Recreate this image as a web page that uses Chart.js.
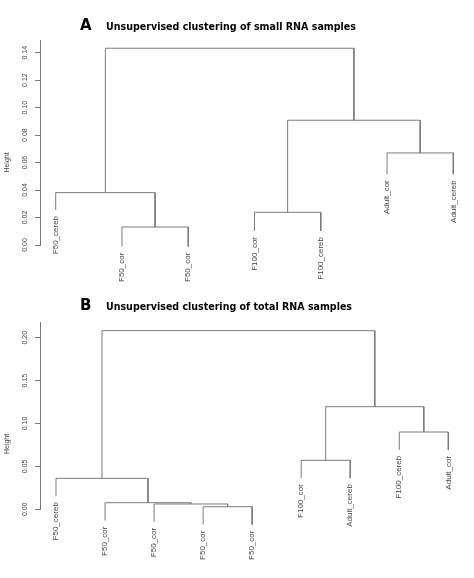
<!DOCTYPE html>
<html>
<head>
<meta charset="utf-8">
<script src="https://cdn.jsdelivr.net/npm/chart.js@4.4.1/dist/chart.umd.min.js"></script>
<style>
html, body { margin: 0; padding: 0; background: #fff; }
#wrap { position: relative; width: 474px; height: 578px; }
canvas { position: absolute; left: 0; }
</style>
</head>
<body>
<div id="wrap">
<canvas id="chartA" width="474" height="290" style="top:0px"></canvas>
<canvas id="chartB" width="474" height="288" style="top:290px"></canvas>
</div>
<script>
// ---------- panel A : small RNA ----------
const leavesA = ["F50_cereb", "F50_cor", "F50_cor", "F100_cor", "F100_cereb", "Adult_cor", "Adult_cereb"];
const leafEndA = [0.0255, -0.0012, -0.0012, 0.0102, 0.0102, 0.0515, 0.0515];
// R style merge table: negative = leaf, positive = earlier merge
const mergeA = [[-2, -3], [-4, -5], [-6, -7], [-1, 1], [2, 3], [4, 5]];
const heightA = [0.0131, 0.0238, 0.0670, 0.0381, 0.0908, 0.1432];
const ticksA = [0, 0.02, 0.04, 0.06, 0.08, 0.10, 0.12, 0.14];

// ---------- panel B : total RNA ----------
const leavesB = ["F50_cereb", "F50_cor", "F50_cor", "F50_cor", "F50_cor", "F100_cor", "Adult_cereb", "F100_cereb", "Adult_cor"];
const leafEndB = [0.0153, -0.0131, -0.0146, -0.0178, -0.0178, 0.0363, 0.0363, 0.0693, 0.0693];
const mergeB = [[-4, -5], [-3, 1], [-2, 2], [-1, 3], [-6, -7], [-8, -9], [5, 6], [4, 7]];
const heightB = [0.0030, 0.0062, 0.0077, 0.0361, 0.0571, 0.0901, 0.1196, 0.2082];
const ticksB = [0, 0.05, 0.10, 0.15, 0.20];

const LINE = "#7a7a7a";
const TEXT = "#444";

// turn the merge table into one polyline per link
function buildLinks(merge, height, leafEnd) {
    const nodeX = [], nodeY = [];
    function pos(ref) {
        if (ref < 0) return { x: -ref, y: leafEnd[-ref - 1] };
        return { x: nodeX[ref - 1], y: nodeY[ref - 1] };
    }
    return merge.map((m, k) => {
        const a = pos(m[0]), b = pos(m[1]);
        nodeX[k] = (a.x + b.x) / 2;
        nodeY[k] = height[k];
        return {
            data: [
                { x: a.x, y: a.y },
                { x: a.x, y: height[k] },
                { x: b.x, y: height[k] },
                { x: b.x, y: b.y }
            ],
            showLine: true,
            borderColor: LINE,
            borderWidth: 1,
            pointRadius: 0,
            fill: false,
            tension: 0,
            clip: false
        };
    });
}

// axis labels, leaf labels and panel title
const dendroText = {
    id: "dendroText",
    afterDraw(chart, args, o) {
        const ctx = chart.ctx;
        const xs = chart.scales.x;
        const ys = chart.scales.y;
        ctx.save();

        ctx.fillStyle = TEXT;
        ctx.font = "7px 'Liberation Sans'";
        ctx.textAlign = "center";
        ctx.textBaseline = "middle";
        o.ticks.forEach(v => {
            ctx.save();
            ctx.translate(25.5, ys.getPixelForValue(v));
            ctx.rotate(-Math.PI / 2);
            ctx.fillText(v.toFixed(2), 0, 0);
            ctx.restore();
        });

        ctx.save();
        ctx.translate(7, o.heightY);
        ctx.rotate(-Math.PI / 2);
        ctx.fillText("Height", 0, 0);
        ctx.restore();

        ctx.font = "8px 'Liberation Sans'";
        ctx.textAlign = "right";
        o.leaves.forEach((name, i) => {
            ctx.save();
            ctx.translate(xs.getPixelForValue(i + 1), ys.getPixelForValue(o.leafEnd[i]) + 6);
            ctx.rotate(-Math.PI / 2);
            ctx.fillText(name, 0, 0);
            ctx.restore();
        });

        ctx.fillStyle = "#000";
        ctx.textAlign = "left";
        ctx.textBaseline = "alphabetic";
        ctx.font = "bold 15px 'DejaVu Sans'";
        ctx.fillText(o.letter, 80, o.titleY);
        ctx.font = "bold 10.5px 'DejaVu Sans'";
        const w = ctx.measureText(o.title).width;
        ctx.translate(106, o.titleY);
        ctx.scale(o.titleWidth / w, 1);
        ctx.fillText(o.title, 0, 0);

        ctx.restore();
    }
};

function makeChart(id, cfg) {
    return new Chart(
        document.getElementById(id),
        {
            type: "scatter",
            data: { datasets: buildLinks(cfg.merge, cfg.height, cfg.leafEnd) },
            options: {
                responsive: false,
                animation: false,
                layout: { padding: cfg.padding },
                plugins: {
                    legend: { display: false },
                    tooltip: { enabled: false },
                    dendroText: {
                        ticks: cfg.ticks,
                        leaves: cfg.leaves,
                        leafEnd: cfg.leafEnd,
                        heightY: cfg.heightY,
                        letter: cfg.letter,
                        title: cfg.title,
                        titleY: cfg.titleY,
                        titleWidth: cfg.titleWidth
                    }
                },
                scales: {
                    x: { type: "linear", display: false, min: cfg.xMin, max: cfg.xMax },
                    y: {
                        type: "linear",
                        min: 0,
                        max: cfg.yMax,
                        afterBuildTicks: s => { s.ticks = cfg.ticks.map(v => ({ value: v })); },
                        afterFit: s => { s.width = 40; },
                        ticks: { display: false },
                        grid: { display: true, drawOnChartArea: false, drawTicks: true, tickLength: 5, color: LINE, lineWidth: 1 },
                        border: { display: true, color: LINE, width: 1 }
                    }
                }
            },
            plugins: [dendroText]
        }
    );
}

const chartA = makeChart("chartA", {
    merge: mergeA, height: heightA, leafEnd: leafEndA, leaves: leavesA, ticks: ticksA,
    padding: { top: 40, bottom: 45, left: 0, right: 14 },
    xMin: 0.763, xMax: 7.101, yMax: 0.1492,
    heightY: 162.5,
    letter: "A", title: "Unsupervised clustering of small RNA samples", titleY: 29.5, titleWidth: 250
});

const chartB = makeChart("chartB", {
    merge: mergeB, height: heightB, leafEnd: leafEndB, leaves: leavesB, ticks: ticksB,
    padding: { top: 32.7, bottom: 68.7, left: 0, right: 14 },
    xMin: 0.674, xMax: 9.238, yMax: 0.2175,
    heightY: 154,
    letter: "B", title: "Unsupervised clustering of total RNA samples", titleY: 20.3, titleWidth: 246
});
</script>
</body>
</html>
